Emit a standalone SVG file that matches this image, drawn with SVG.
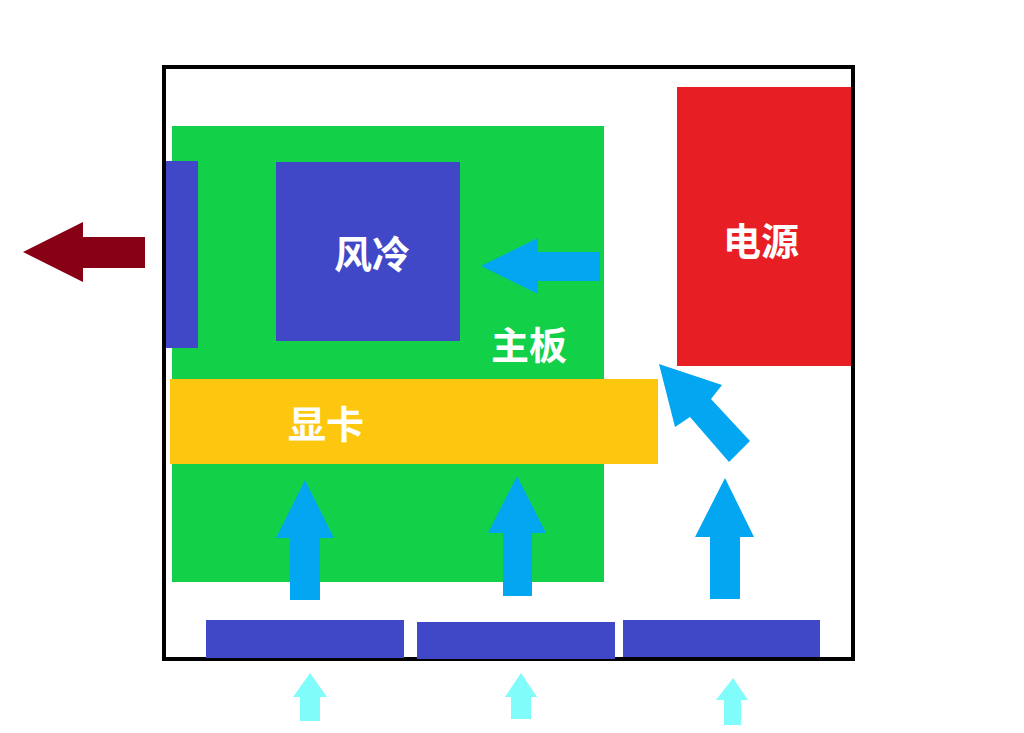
<svg xmlns="http://www.w3.org/2000/svg" width="1024" height="733" viewBox="0 0 1024 733">
<style>
.lbl{font-family:"Noto Sans CJK SC","Noto Sans",sans-serif;font-weight:bold;font-size:38px;fill:#fff;text-anchor:middle;dominant-baseline:central}
.air{fill:#03A6F0}
.inl{fill:#80FCFA}
.blue{fill:#4048C8}
</style>
<rect width="1024" height="733" fill="#fff"/>
<g id="case"><rect x="164" y="67" width="689" height="592" fill="#fff" stroke="#000" stroke-width="4"/></g>
<g id="motherboard"><rect x="172" y="126" width="432" height="456" fill="#12D048"/><text class="lbl" x="529" y="342">主板</text></g>
<g id="rear-fan"><rect class="blue" x="166" y="161" width="32" height="187"/></g>
<g id="cooler"><rect class="blue" x="276" y="162" width="184" height="179"/><text class="lbl" x="372" y="251">风冷</text></g>
<g id="psu"><rect x="677" y="87" width="174" height="279" fill="#E81E25"/><text class="lbl" x="761" y="238">电源</text></g>
<g id="gpu"><rect x="170" y="379" width="488" height="85" fill="#FDC70F"/><text class="lbl" x="326" y="421">显卡</text></g>
<g id="front-fans">
<rect class="blue" x="206" y="620" width="198" height="38"/>
<rect class="blue" x="417" y="622" width="198" height="37"/>
<rect class="blue" x="623" y="620" width="197" height="37"/>
</g>
<g id="connectors">
<polygon fill="#880015" points="23,252 83,222 83,237 145,237 145,268 83,268 83,282"/>
<polygon class="air" points="481,266 538,238 538,252 600,252 600,281 538,281 538,294"/>
<polygon class="air" points="659,364 722,385 711,399 750,441 729,462 690,417 675,427"/>
<polygon class="air" points="305,480 334,538 320,538 320,600 290,600 290,538 276,538"/>
<polygon class="air" points="517,476 546,533 532,533 532,596 503,596 503,533 488,533"/>
<polygon class="air" points="725,478 754,537 740,537 740,599 710,599 710,537 695,537"/>
<polygon class="inl" points="310,673 327,697 320,697 320,721 300,721 300,697 293,697"/>
<polygon class="inl" points="521,673 537,697 531,697 531,719 511,719 511,697 505,697"/>
<polygon class="inl" points="733,678 748,700 741,700 741,725 724,725 724,700 716,700"/>
</g>
</svg>
